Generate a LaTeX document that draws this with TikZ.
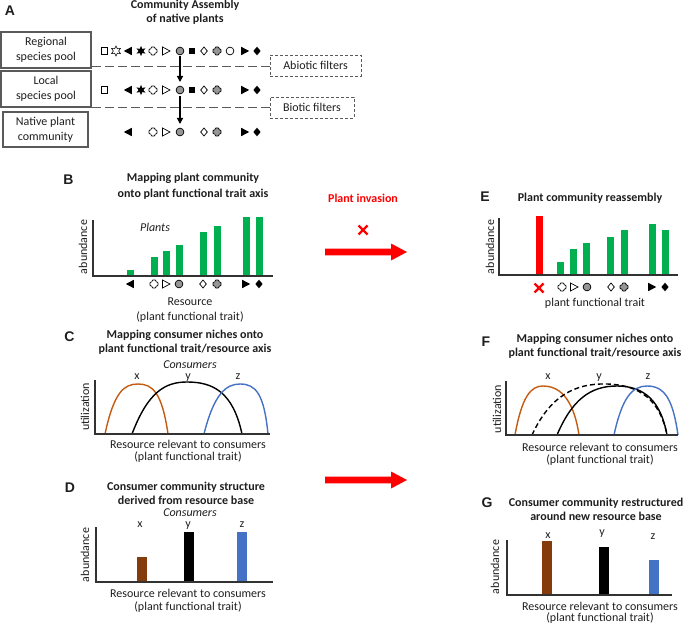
\documentclass[tikz,border=0pt]{standalone}
\usepackage{fontspec}
\setmainfont{Carlito}
\newfontfamily\pl{Liberation Sans}
\usetikzlibrary{shapes.geometric,arrows.meta}
\definecolor{txt}{RGB}{30,30,30}
\definecolor{axisc}{RGB}{50,50,50}
\definecolor{boxc}{RGB}{90,90,90}
\definecolor{grn}{RGB}{0,176,80}
\definecolor{brc}{RGB}{197,90,17}
\definecolor{brb}{RGB}{132,60,12}
\definecolor{blc}{RGB}{68,114,196}
\definecolor{gfill}{RGB}{150,150,150}
\definecolor{redc}{RGB}{255,0,0}
\tikzset{
  lbl/.style={font=\fontsize{12}{15}\selectfont, text=txt, inner sep=0pt, align=center},
  ttl/.style={font=\bfseries\fontsize{12}{14}\selectfont, text=txt, inner sep=0pt, align=center},
  let/.style={lbl, text height=5.5pt, text depth=0pt},
  itl/.style={lbl, font=\itshape\fontsize{12}{15}\selectfont, text height=8pt, text depth=0pt},
  panel/.style={font=\pl\bfseries\fontsize{14}{14}\selectfont, text=txt, inner sep=0pt},
  box/.style={lbl, draw=boxc, line width=1.2pt},
  fbox/.style={lbl, draw=boxc, line width=0.9pt, dash pattern=on 3pt off 2pt},
  dline/.style={draw=boxc, line width=1pt, dash pattern=on 9pt off 4pt},
  arr/.style={draw=black, line width=1.3pt, -{Triangle[length=6pt,width=6pt]}},
  axis/.style={draw=axisc, line width=1.4pt},
  curve/.style={line width=1.4pt},
  sym/.style={draw=black, line width=0.7pt},
  sqo/.pic={\draw[sym,fill=white] (-3,-3.6) rectangle (3,3.6);},
  sqb/.pic={\fill[black] (-3.4,-3.4) rectangle (3.4,3.4);},
  circg/.pic={\draw[sym,fill=gfill] (0,0) circle (3.9);},
  circo/.pic={\draw[sym,fill=white] (0,0) circle (3.9);},
  diao/.pic={\draw[sym,fill=white] (0,-4) -- (3.3,0) -- (0,4) -- (-3.3,0) -- cycle;},
  diab/.pic={\fill[black] (0,-4.3) -- (3.6,0) -- (0,4.3) -- (-3.6,0) -- cycle;},
  trilb/.pic={\fill[black] (-4.2,0) -- (3.8,-4.2) -- (3.8,4.2) -- cycle;},
  trirb/.pic={\fill[black] (4.2,0) -- (-3.8,-4.2) -- (-3.8,4.2) -- cycle;},
  triro/.pic={\draw[sym,fill=white] (4,0) -- (-3.5,-4) -- (-3.5,4) -- cycle;},
  staro/.pic={\node[star,star points=6,star point ratio=1.9,minimum size=10pt,inner sep=0pt,draw=black,line width=0.6pt,fill=white] at (0,0) {};},
  starb/.pic={\node[star,star points=6,star point ratio=2.2,minimum size=10.5pt,inner sep=0pt,fill=black] at (0,0) {};},
  crsw/.pic={\draw[sym,fill=white,rounded corners=0.7pt] (-1.9,-4) -- (1.9,-4) -- (1.9,-1.9) -- (4,-1.9) -- (4,1.9) -- (1.9,1.9) -- (1.9,4) -- (-1.9,4) -- (-1.9,1.9) -- (-4,1.9) -- (-4,-1.9) -- (-1.9,-1.9) -- cycle;},
  crsg/.pic={\draw[sym,fill=gfill,rounded corners=0.7pt] (-1.9,-4) -- (1.9,-4) -- (1.9,-1.9) -- (4,-1.9) -- (4,1.9) -- (1.9,1.9) -- (1.9,4) -- (-1.9,4) -- (-1.9,1.9) -- (-4,1.9) -- (-4,-1.9) -- (-1.9,-1.9) -- cycle;},
  redx/.pic={\draw[redc,line width=2.2pt] (-4.5,-4.5) -- (4.5,4.5) (-4.5,4.5) -- (4.5,-4.5);}
}
\begin{document}
\begin{tikzpicture}[x=1pt,y=-1pt]
\useasboundingbox (0,0) rectangle (685,631);

% ---------------- Panel A ----------------
\node[panel] (lA) at (10,11) {A};
\node[ttl] (tA) at (185,12) {Community Assembly\\of native plants};
\node[box, minimum width=90pt, minimum height=36pt] (reg) at (46,50) {Regional\\species pool};
\node[box, minimum width=90pt, minimum height=36pt] (loc) at (46,89) {Local\\species pool};
\node[box, minimum width=85pt, minimum height=35pt] (nat) at (45.5,129.5) {Native plant\\community};
\node[fbox, minimum width=91pt, minimum height=21pt] (abio) at (315.5,65.5) {Abiotic filters};
\node[fbox, minimum width=84pt, minimum height=21pt] (bio) at (312,107.5) {Biotic filters};
\coordinate (d1a) at (92,67); \coordinate (d1b) at (270,67);
\coordinate (d2a) at (92,108); \coordinate (d2b) at (270,108);
\draw[dline] (d1a) -- (d1b);
\draw[dline] (d2a) -- (d2b);
\foreach \x/\s in {104/sqo,116/staro,128/trilb,141/starb,153/crsw,166/triro,180/circg,192/sqb,204/diao,217/crsg,230/circo,245/trirb,257/diab}
  \pic at (\x,51) {\s};
\foreach \x/\s in {104/sqo,128/trilb,141/starb,153/crsw,166/triro,180/circg,192/sqb,204/diao,217/crsg,245/trirb,257/diab}
  \pic at (\x,90) {\s};
\foreach \x/\s in {128/trilb,153/crsw,166/triro,180/circg,204/diao,217/crsg,245/trirb,257/diab}
  \pic at (\x,132) {\s};
\coordinate (a1s) at (180,56); \coordinate (a1e) at (180,82);
\coordinate (a2s) at (180,96); \coordinate (a2e) at (180,124);
\draw[arr] (a1s) -- (a1e);
\draw[arr] (a2s) -- (a2e);

% ---------------- Panel B ----------------
\node[panel] (lB) at (68.5,180) {B};
\node[ttl, font=\bfseries\fontsize{12}{16}\selectfont] (tB) at (193,186) {Mapping plant community\\onto plant functional trait axis};
\coordinate (bO) at (93,276); \coordinate (bY) at (93,220); \coordinate (bX) at (273,276);
\draw[axis] (bY) -- (bO) -- (bX);
\node[lbl, rotate=90] (bya) at (83,247) {abundance};
\node[itl] (bpl) at (155,227) {Plants};
\foreach \x/\t in {130/270,154/257,166/251,179/245,203/232,217/226,246/217,259/217}
  \fill[grn] (\x-3.5,275) rectangle (\x+3.5,\t);
\foreach \x/\s in {130/trilb,154/crsw,166/triro,179/circg,203/diao,217/crsg,246/trirb,259/diab}
  \pic at (\x,284) {\s};
\node[lbl] (bxa) at (190,302) {Resource};
\node[lbl] (bxb) at (190,317) {(plant functional trait)};

% ---------------- invasion ----------------
\node[ttl, text=redc] (inv) at (363,198) {Plant invasion};
\pic at (363,230) {redx};
\coordinate (i1s) at (325,252); \coordinate (i1e) at (407,252);
\fill[redc] (i1s) ++(0,-3.3) -- (391,248.7) -- (391,243.5) -- (i1e) -- (391,260.5) -- (391,255.3) -- (325,255.3) -- cycle;
\coordinate (i2s) at (325,480); \coordinate (i2e) at (407,480);
\fill[redc] (i2s) ++(0,-3.3) -- (391,476.7) -- (391,471.5) -- (i2e) -- (391,488.5) -- (391,483.3) -- (325,483.3) -- cycle;

% ---------------- Panel E ----------------
\node[panel] (lE) at (485,197) {E};
\node[ttl] (tE) at (590,198) {Plant community reassembly};
\coordinate (eO) at (499,275); \coordinate (eY) at (499,218); \coordinate (eX) at (678,275);
\draw[axis] (eY) -- (eO) -- (eX);
\node[lbl, rotate=90] (eya) at (490,247) {abundance};
\fill[redc] (535.5,274) rectangle (542.5,216);
\foreach \x/\t in {560/262,573/249,586/243,610/237,624/230,652/224,665/230}
  \fill[grn] (\x-3.5,274) rectangle (\x+3.5,\t);
\pic at (539,288) {redx};
\foreach \x/\s in {562/crsw,574/triro,587/circg,611/diao,624/crsg,652/trirb,665/diab}
  \pic at (\x,287) {\s};
\node[lbl] (exa) at (595,303) {plant functional trait};

% ---------------- Panel C ----------------
\node[panel] (lC) at (69.5,337) {C};
\node[ttl] (tC) at (185,342) {Mapping consumer niches onto\\plant functional trait/resource axis};
\node[itl] (cco) at (190,364) {Consumers};
\node[let] (cx) at (137,377) {x};
\node[let] (cy) at (188,377) {y};
\node[let] (cz) at (238,377) {z};
\coordinate (cO) at (95,434); \coordinate (cY) at (95,380); \coordinate (cX) at (270,434);
\node[lbl, rotate=90] (cya) at (85,407) {utilization};
\draw[curve, brc] (105,434) .. controls (114,392) and (124,384) .. (138,384) .. controls (153,384) and (162,393) .. (168,434);
\draw[curve, black] (132,434) .. controls (148,392) and (165,382) .. (187,382) .. controls (213,382) and (233,392) .. (242,434);
\draw[curve, blc] (204,434) .. controls (214,394) and (226,384) .. (240,384) .. controls (256,384) and (264,394) .. (268,434);
\draw[axis] (cY) -- (cO) -- (cX);
\node[lbl] (cxa) at (188,444) {Resource relevant to consumers};
\node[lbl] (cxb) at (188,457) {(plant functional trait)};

% ---------------- Panel F ----------------
\node[panel] (lF) at (486,342) {F};
\node[ttl] (tF) at (595,346) {Mapping consumer niches onto\\plant functional trait/resource axis};
\node[let] (fx) at (548,377) {x};
\node[let] (fy) at (599,377) {y};
\node[let] (fz) at (648,377) {z};
\coordinate (fO) at (506,435); \coordinate (fY) at (506,381); \coordinate (fX) at (678,435);
\node[lbl, rotate=90] (fya) at (497,409) {utilization};
\draw[curve, brc] (515,435) .. controls (522,396) and (531,386) .. (543,386) .. controls (557,386) and (573,395) .. (579,435);
\draw[curve, black, dash pattern=on 5pt off 3pt] (532,435) .. controls (550,396) and (575,383) .. (607,384) .. controls (640,385) and (660,400) .. (667,435);
\draw[curve, black] (557,435) .. controls (572,400) and (590,386) .. (617,386) .. controls (645,386) and (661,402) .. (667,435);
\draw[curve, blc] (614,435) .. controls (622,398) and (632,386) .. (647,386) .. controls (665,386) and (673,400) .. (678,435);
\draw[axis] (fY) -- (fO) -- (fX);
\node[lbl] (fxa) at (600,447) {Resource relevant to consumers};
\node[lbl] (fxb) at (600,460) {(plant functional trait)};

% ---------------- Panel D ----------------
\node[panel] (lD) at (70,488) {D};
\node[ttl] (tD) at (186,493.5) {Consumer community structure\\derived from resource base};
\node[itl] (dco) at (190,512) {Consumers};
\node[let] (dx) at (140,525) {x};
\node[let] (dy) at (188,525) {y};
\node[let] (dz) at (242,525) {z};
\coordinate (dO) at (96,582); \coordinate (dY) at (96,527); \coordinate (dX) at (273,582);
\node[lbl, rotate=90] (dya) at (85,555) {abundance};
\fill[brb] (137,581) rectangle (147,557);
\fill[black] (184,581) rectangle (194,532);
\fill[blc] (237,581) rectangle (247,532);
\draw[axis] (dY) -- (dO) -- (dX);
\node[lbl] (dxa) at (188,593) {Resource relevant to consumers};
\node[lbl] (dxb) at (188,607) {(plant functional trait)};

% ---------------- Panel G ----------------
\node[panel] (lG) at (487,503) {G};
\node[ttl] (tG) at (596,509.5) {Consumer community restructured\\around new resource base};
\node[let] (gx) at (548,536) {x};
\node[let] (gy) at (602,533) {y};
\node[let] (gz) at (653,537) {z};
\coordinate (gO) at (507,595); \coordinate (gY) at (507,540); \coordinate (gX) at (672,595);
\node[lbl, rotate=90] (gya) at (495,567) {abundance};
\fill[brb] (542,594) rectangle (552,541);
\fill[black] (599,594) rectangle (609,547);
\fill[blc] (649,594) rectangle (659,560);
\draw[axis] (gY) -- (gO) -- (gX);
\node[lbl] (gxa) at (600,606) {Resource relevant to consumers};
\node[lbl] (gxb) at (600,618) {(plant functional trait)};
\end{tikzpicture}
\end{document}
